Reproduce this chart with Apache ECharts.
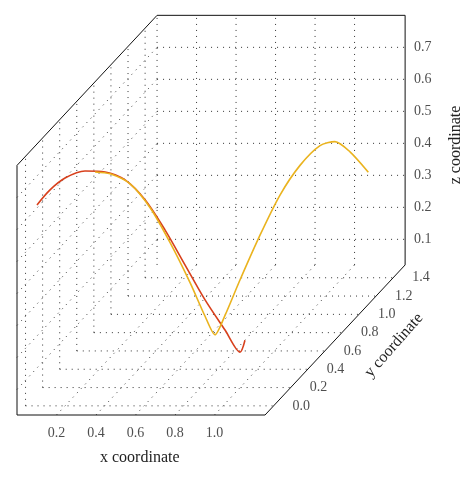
<!DOCTYPE html>
<html>
<head>
<meta charset="utf-8">
<script src="https://cdn.jsdelivr.net/npm/echarts@6/dist/echarts.min.js"></script>
<style>html,body{margin:0;padding:0;background:#fff}#container{width:474px;height:480px}</style>
</head>
<body>
<div id="container"></div>
<script>
// box ranges (3D)
var xRange = [0, 1.256];
var yRange = [-0.1, 1.54];
var zRange = [0.02, 0.80];

var xTicks = [0.2, 0.4, 0.6, 0.8, 1.0];
var yTicks = [0.0, 0.2, 0.4, 0.6, 0.8, 1.0, 1.2, 1.4];
var zTicks = [0.1, 0.2, 0.3, 0.4, 0.5, 0.6, 0.7];

// red curve (x, y, z)
var redX = [0.058, 0.124, 0.200, 0.301, 0.403, 0.504, 0.605, 0.706, 0.808, 0.909, 1.010, 1.086, 1.111];
var redY = [0, 0, 0, 0, 0, 0, 0, 0, 0, 0, 0, 0, 0];
var redZ = [0.648, 0.695, 0.732, 0.754, 0.751, 0.726, 0.664, 0.570, 0.460, 0.351, 0.257, 0.188, 0.225];

// yellow curve (x, y, z)
var yelX = [0.352, 0.428, 0.529, 0.630, 0.732, 0.833, 0.909, 0.959, 0.965, 0.975, 0.99, 1.0, 1.02, 1.04, 1.05, 1.07, 1.1];
var yelY = [0, 0, 0, 0, 0, 0, 0, 0, 0.104, 0.256, 0.456, 0.667, 0.855, 1.043, 1.195, 1.325, 1.47];
var yelZ = [0.751, 0.745, 0.714, 0.640, 0.530, 0.405, 0.300, 0.242, 0.273, 0.340, 0.423, 0.488, 0.527, 0.535, 0.504, 0.435, 0.330];

function project(x, y, z) {
	var d = y - yRange[0];
	return [17 + x * 197.5 + d * 85.4, 415 - d * 91.5 - (z - zRange[0]) * 320];
}

var series = [];
function seg(a, b, style) {
	series.push({type: 'line', data: [project(a[0], a[1], a[2]), project(b[0], b[1], b[2])],
		symbol: 'none', silent: true, animation: false, lineStyle: style, z: 1});
}
var dotStyle = {color: '#333', width: 1, type: [1, 5]};
var solid = {color: '#111', width: 1};
var x0 = xRange[0], x1 = xRange[1], y0 = yRange[0], y1 = yRange[1], z0 = zRange[0], z1 = zRange[1];

// dotted grid: back wall, left wall, floor
for (var i = 0; i < xTicks.length; ++i) {
	seg([xTicks[i], y1, z0], [xTicks[i], y1, z1], dotStyle);
	seg([xTicks[i], y0, z0], [xTicks[i], y1, z0], dotStyle);
}
for (var i = 0; i < zTicks.length; ++i) {
	seg([x0, y1, zTicks[i]], [x1, y1, zTicks[i]], dotStyle);
	seg([x0, y0, zTicks[i]], [x0, y1, zTicks[i]], dotStyle);
}
for (var i = 0; i < yTicks.length; ++i) {
	seg([x0, yTicks[i], z0], [x1, yTicks[i], z0], dotStyle);
	seg([x0, yTicks[i], z0], [x0, yTicks[i], z1], dotStyle);
}
seg([x0, y1, z0], [x0, y1, z1], dotStyle);

// frame
seg([x0, y0, z0], [x0, y0, z1], solid);
seg([x0, y0, z1], [x0, y1, z1], solid);
seg([x0, y1, z1], [x1, y1, z1], solid);
seg([x1, y1, z1], [x1, y1, z0], solid);
seg([x1, y1, z0], [x1, y0, z0], solid);
seg([x1, y0, z0], [x0, y0, z0], solid);

function curve(xs, ys, zs) {
	var arr = [];
	for (var i = 0; i < xs.length; ++i) arr.push(project(xs[i], ys[i], zs[i]));
	return arr;
}
series.push({type: 'line', data: curve(redX, redY, redZ), smooth: 0.3, symbol: 'none', animation: false,
	lineStyle: {color: '#d8401c', width: 1.6}, z: 3});
series.push({type: 'line', data: curve(yelX, yelY, yelZ), smooth: 0.25, symbol: 'none', animation: false,
	lineStyle: {color: '#eab31e', width: 1.6}, z: 4});

// tick labels
var font = {fontFamily: 'Liberation Serif', fontSize: 14, color: '#222'};
function labels(pts, texts, pos, offset) {
	series.push({type: 'scatter', data: pts.map(function(p, k) { return {value: p, name: texts[k]}; }),
		symbolSize: 0, animation: false, silent: true,
		label: Object.assign({show: true, position: pos, offset: offset, formatter: '{b}'}, font)});
}
labels(xTicks.map(function(v) { return project(v, y0, z0); }), xTicks.map(function(v) { return v.toFixed(1); }), 'bottom', [0, 6]);
labels(yTicks.map(function(v) { return project(x1, v, z0); }), yTicks.map(function(v) { return v.toFixed(1); }), 'right', [14, 0]);
labels(zTicks.map(function(v) { return project(x1, y1, v); }), zTicks.map(function(v) { return v.toFixed(1); }), 'right', [4, 0]);

var myChart = echarts.init(document.getElementById('container'));
myChart.setOption({
	backgroundColor: '#fff',
	grid: {left: 0, top: 0, right: 0, bottom: 0},
	xAxis: {type: 'value', min: 0, max: 474, show: false},
	yAxis: {type: 'value', min: 0, max: 480, inverse: true, show: false},
	graphic: [
		{type: 'text', left: 100, top: 450, style: {text: 'x coordinate', font: '16px Liberation Serif', fill: '#222'}},
		{type: 'text', x: 448, y: 145, rotation: Math.PI / 2, style: {text: 'z coordinate', font: '16px Liberation Serif', fill: '#222', textAlign: 'center'}},
		{type: 'text', x: 388, y: 340, rotation: Math.PI * 0.27, style: {text: 'y coordinate', font: '16px Liberation Serif', fill: '#222', textAlign: 'center'}}
	],
	series: series
});
</script>
</body>
</html>
